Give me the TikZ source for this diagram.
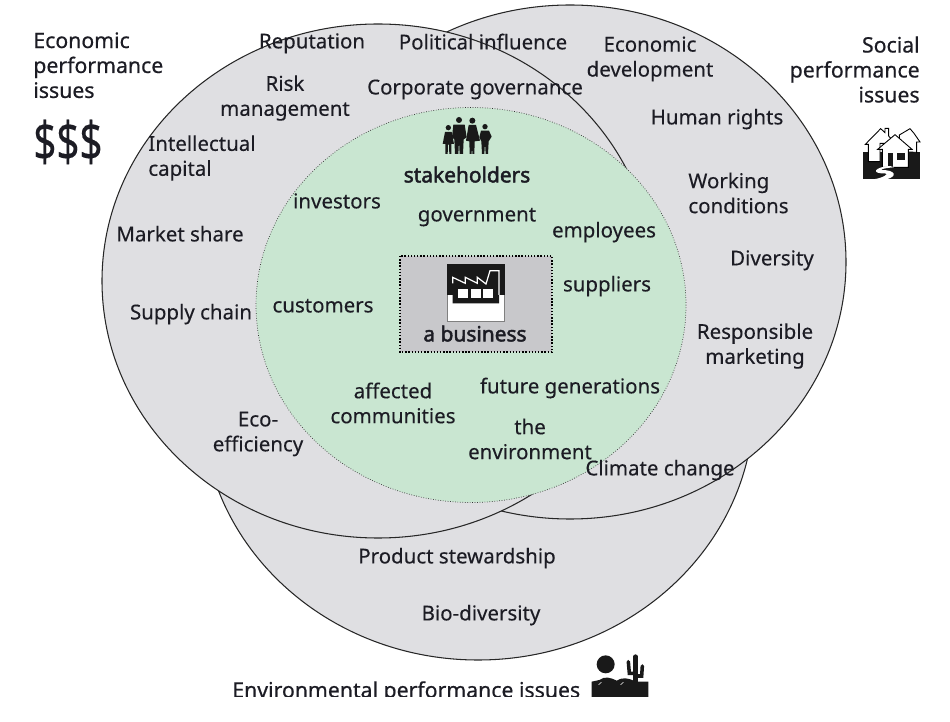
\documentclass[tikz,border=0pt]{standalone}
\usepackage{fontspec}
\setmainfont[FakeBold=.25]{Noto Sans}
\newfontfamily\heavyfont[FakeBold=2.2]{Noto Sans}
\newfontfamily\titlefont[FakeBold=.6]{Noto Sans}
\definecolor{issuegray}{HTML}{DFDFE2}
\definecolor{stakegreen}{HTML}{C9E6D1}
\definecolor{boxgray}{HTML}{C8C8CB}
\definecolor{inkdark}{HTML}{1C1C24}
\tikzset{
  issue/.style={draw=black!85, fill=issuegray, line width=.6pt},
  lbl/.style={font=\fontsize{11.65}{14.2}\selectfont, text=inkdark, inner sep=0pt, align=center},
  one/.style={lbl, text height=10.1pt, text depth=1.7pt},
  lblbold/.style={one, font=\fontsize{11.9}{14.2}\heavyfont},
  lblleft/.style={lbl, align=left},
  lbltitle/.style={lbl, font=\fontsize{12.1}{14.2}\titlefont},
  zoomed/.style n args={2}{shift={(#1,#2)}, scale=1/3},
}
\begin{document}
\begin{tikzpicture}[x=.02cm, y=-.02cm]
    \useasboundingbox (0,0) rectangle (950,722);

    % Three issue circles
    \draw[issue] (478,403) ellipse [x radius=276, y radius=257];
    \draw[issue] (570,262) ellipse [x radius=276, y radius=257];
    \draw[issue] (378,281) ellipse [x radius=276, y radius=257];

    % Stakeholder circle and business box
    \draw[fill=stakegreen, draw=black!80, densely dotted, line width=.4pt] (471,305) ellipse [x radius=215, y radius=197.5];
    \draw[fill=boxgray, densely dotted, line width=.8pt] (400,256) rectangle (552,352);

    % Factory
    \begin{scope}[zoomed={400}{100}]
        \fill[white] (141,492) rectangle (314,664);
        \draw[black!50, line width=.4pt] (141,585) -- (141,664) -- (314,664) -- (314,585);
        \fill[black!90] (141,492) rectangle (314,585);
        \fill[black!90] (158,610) -- (158,532) -- (196,550) -- (196,532) -- (232,550) -- (232,532) -- (262,550) -- (270,512) -- (297,512) -- (297,610) -- cycle;
        \draw[white, line width=.7pt] (158,550) -- (158,532) -- (196,550) -- (196,532) -- (232,550) -- (232,532) -- (258,552) -- (270,512) -- (297,512) -- (297,585);
        \foreach \winx in {175,212,250}
            \fill[white] (\winx,566) rectangle +(30,29);
    \end{scope}

    % Family
    \begin{scope}[zoomed={400}{100}, fill=black!90]
        \fill (145,83) circle (8);
        \fill (135,96) -- (155,96) -- (162,132) -- (154,132) -- (154,162) -- (148,162) -- (147,134) -- (144,134) -- (143,162) -- (136,162) -- (136,132) -- (128,132) -- cycle;
        \fill (177,60) circle (9);
        \fill (160,74) -- (194,74) -- (200,112) -- (191,118) -- (189,162) -- (179,162) -- (177,122) -- (175,162) -- (165,162) -- (163,118) -- (156,112) -- cycle;
        \fill (217,62) circle (9);
        \fill (206,75) -- (228,75) -- (240,122) -- (224,124) -- (223,162) -- (217,162) -- (216,126) -- (215,162) -- (209,162) -- (208,124) -- (198,122) -- cycle;
        \fill (255,80) circle (8);
        \fill (243,92) -- (267,92) -- (275,110) -- (266,124) -- (264,162) -- (257,162) -- (255,128) -- (253,162) -- (246,162) -- (244,124) -- (238,112) -- cycle;
    \end{scope}

    % Houses
    \begin{scope}[zoomed={840}{110}]
        \fill[black!90] (70,127) rectangle (240,208);
        \draw[fill=white, line width=.5pt] (85,155) -- (85,103) -- (76,103) -- (122,56) -- (135,68) -- (135,55) -- (146,55) -- (146,78) -- (165,100) -- (120,100) -- (120,155) -- cycle;
        \draw[fill=white, line width=.5pt] (178,125) -- (178,75) -- (210,56) -- (222,70) -- (240,96) -- (230,96) -- (230,127) -- cycle;
        \draw[fill=white, line width=.5pt] (127,172) -- (127,118) -- (113,118) -- (165,74) -- (216,118) -- (205,118) -- (205,172) -- cycle;
        \fill[black!90] (144,128) rectangle (160,172);
        \fill[black!90] (172,128) rectangle (195,150);
        \fill[white] (150,168) .. controls (105,170) and (90,192) .. (135,190) .. controls (150,190) and (130,204) .. (100,208) -- (140,208) .. controls (175,198) and (165,180) .. (125,180) .. controls (120,178) and (135,174) .. (162,172) -- cycle;
    \end{scope}

    % Desert
    \begin{scope}[zoomed={560}{640}]
        \fill[black!90] (137,73) circle (27);
        \draw[black!90, line width=2.6pt, line cap=round] (226,125) -- (226,50);
        \draw[black!90, line width=2pt, line cap=round] (226,100) -- (208,100) -- (205,65);
        \draw[black!90, line width=2pt, line cap=round] (226,108) -- (245,108) -- (247,78);
        \fill[black!90] (95,172) -- (95,125) -- (118,120) .. controls (135,108) and (150,112) .. (170,122) .. controls (185,112) and (205,112) .. (225,125) -- (265,125) -- (265,172) -- cycle;
        \draw[white, line width=.3pt] (116,134) -- (124,127) (182,134) -- (190,127);
    \end{scope}

    % Economic issues
    \node[lbltitle, align=left, anchor=north west] (econtitle) at (33,32) {Economic\\performance\\issues};
    \node[lblleft, anchor=west, font=\fontsize{31}{31}\selectfont] (dollars) at (33,142) {\scalebox{.74}[1]{\$\$\$}};
    \node[one] (reputation) at (312,41) {Reputation};
    \node[lbl] (risk) at (285,98) {Risk\\management};
    \node[lblleft, anchor=west] (intellectual) at (148,158) {Intellectual\\capital};
    \node[one] (market) at (180,234) {Market share};
    \node[one] (supply) at (191,312) {Supply chain};
    \node[lbl] (eco) at (258,434) {Eco-\\efficiency};

    % Shared and social issues
    \node[one] (political) at (483,42) {Political influence};
    \node[one] (governance) at (475,87) {Corporate governance};
    \node[lbl] (development) at (650,59) {Economic\\development};
    \node[lbltitle, align=right, anchor=north east] (socialtitle) at (920,36) {Social\\performance\\issues};
    \node[one] (rights) at (717,117) {Human rights};
    \node[lblleft, anchor=west] (working) at (688,193) {Working\\conditions};
    \node[one] (diversity) at (772,258) {Diversity};
    \node[lbl] (marketing) at (755,346) {Responsible\\marketing};
    \node[one] (climate) at (660,468) {Climate change};

    % Environmental issues
    \node[one] (stewardship) at (457,556) {Product stewardship};
    \node[one] (biodiversity) at (481,613) {Bio-diversity};
    \node[lbltitle, anchor=west] (envtitle) at (232,692) {Environmental performance issues};

    % Stakeholders
    \node[lblbold] (stakeholders) at (467,175) {stakeholders};
    \node[one] (investors) at (337,201) {investors};
    \node[one] (government) at (477,214) {government};
    \node[one] (employees) at (604,230) {employees};
    \node[one] (suppliers) at (607,284) {suppliers};
    \node[one] (customers) at (323,305) {customers};
    \node[lbl] (communities) at (393,403) {affected\\communities};
    \node[one] (future) at (570,386) {future generations};
    \node[lbl] (environment) at (530,439) {the\\environment};
    \node[lblbold] (business) at (475,334) {a business};

    % Lower edge of the page cuts the last line
    \fill[white] (0,697) rectangle (950,722);
\end{tikzpicture}
\end{document}
